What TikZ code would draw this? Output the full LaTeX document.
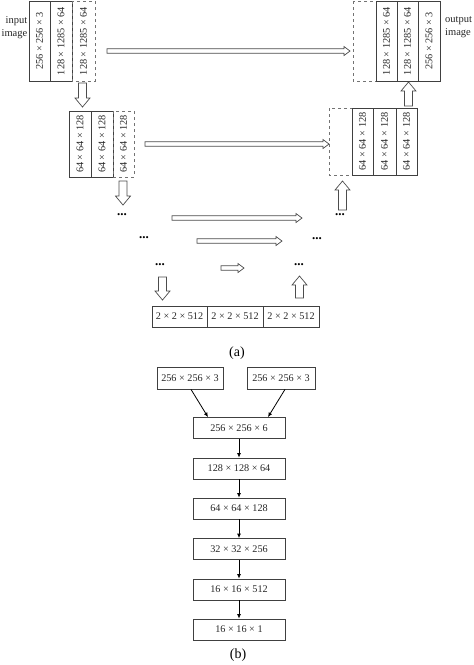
\documentclass[tikz,border=0pt]{standalone}
\usepackage{fontspec}
\setmainfont{Liberation Serif}
\usetikzlibrary{arrows.meta}
\begin{document}
\begin{tikzpicture}[x=1pt,y=-1pt,
  col/.style={draw=black!75, line width=0.8pt, rotate=90, inner sep=0pt, text=black!85,
    font=\fontsize{10.3}{12}\selectfont},
  dcol/.style={col, draw=black!55, dashed},
  blk/.style={draw=black!70, line width=0.7pt, fill=white},
  dots/.style={font=\fontsize{13}{14}\selectfont\bfseries, inner sep=0pt},
  lab/.style={font=\fontsize{10.5}{13}\selectfont, inner sep=0pt, text=black!85},
  bbox/.style={draw=black!75, line width=0.8pt, inner sep=0pt, text=black!85,
    font=\fontsize{10.2}{12}\selectfont},
  chain/.style={bbox, minimum width=92pt, minimum height=21pt},
  conn/.style={line width=0.8pt, -{Latex[length=4.5pt,width=4pt]}},
  captxt/.style={font=\fontsize{14}{16}\selectfont, inner sep=0pt}]
\useasboundingbox (0,0) rectangle (474,665);
\newcommand{\harr}[3]{% x1, x2, y
  \draw[blk] (#1,#3-2.2) -- (#2-6,#3-2.2) -- (#2-6,#3-4.5) -- (#2,#3) -- (#2-6,#3+4.5) -- (#2-6,#3+2.2) -- (#1,#3+2.2) -- cycle;}
\newcommand{\varr}[3]{% x, ytail, ytip
  \pgfmathsetmacro\hb{#3-9*sign(#3-#2)}
  \draw[blk] (#1-4,#2) -- (#1-4,\hb) -- (#1-7.5,\hb) -- (#1,#3) -- (#1+7.5,\hb) -- (#1+4,\hb) -- (#1+4,#2) -- cycle;}

% top-left block
\node[col, minimum width=80pt, minimum height=21pt] (l1a) at (39.5,41) {256 × 256 × 3};
\node[col, minimum width=80pt, minimum height=22pt] (l1b) at (61,41) {128 × 1285 × 64};
\node[dcol, minimum width=80pt, minimum height=23pt] (l1c) at (83.5,41) {128 × 1285 × 64};
\node[lab, anchor=east, align=right] (inl) at (27.5,27.5) {input\\image};

% top-right block
\node[dcol, minimum width=80pt, minimum height=23pt] (r1a) at (364.5,41) {};
\node[col, minimum width=80pt, minimum height=21pt] (r1b) at (386.5,41) {128 × 1285 × 64};
\node[col, minimum width=80pt, minimum height=21pt] (r1c) at (407.5,41) {128 × 1285 × 64};
\node[col, minimum width=80pt, minimum height=22pt] (r1d) at (429,41) {256 × 256 × 3};
\node[lab, anchor=west, align=left] (outl) at (445,27.5) {output\\image};

% second-level blocks
\node[col, minimum width=66pt, minimum height=22pt] (l2a) at (80,144) {64 × 64 × 128};
\node[col, minimum width=66pt, minimum height=22pt] (l2b) at (102,144) {64 × 64 × 128};
\node[dcol, minimum width=66pt, minimum height=21pt] (l2c) at (123.5,144) {64 × 64 × 128};

\node[dcol, minimum width=67pt, minimum height=23pt] (r2a) at (340.5,141.5) {};
\node[col, minimum width=67pt, minimum height=21pt] (r2b) at (362.5,141.5) {64 × 64 × 128};
\node[col, minimum width=67pt, minimum height=23pt] (r2c) at (384.5,141.5) {64 × 64 × 128};
\node[col, minimum width=67pt, minimum height=21pt] (r2d) at (406.5,141.5) {64 × 64 × 128};

% skip arrows
\harr{107}{350}{51}
\harr{145}{329}{144}
\harr{172}{302}{218}
\harr{197}{282}{241}
\harr{221}{244}{268}

% vertical block arrows
\varr{82.5}{83}{107}
\varr{408.5}{106}{82}
\varr{123}{181}{205}
\varr{342.5}{210}{181}
\varr{162.5}{277}{300}
\varr{299.5}{298}{276}

% dots
\node[dots] (d1) at (122,215) {...};
\node[dots] (d2) at (340,215) {...};
\node[dots] (d3) at (144,238) {...};
\node[dots] (d4) at (317,239) {...};
\node[dots] (d5) at (160,265) {...};
\node[dots] (d6) at (299,265) {...};

% bottleneck
\node[bbox, minimum width=55pt, minimum height=21pt] (m1) at (179.5,316.5) {2 × 2 × 512};
\node[bbox, minimum width=56pt, minimum height=21pt] (m2) at (235,316.5) {2 × 2 × 512};
\node[bbox, minimum width=56pt, minimum height=21pt] (m3) at (291,316.5) {2 × 2 × 512};

\node[captxt] (capa) at (237,353) {(a)};

% (b)
\node[bbox, minimum width=66pt, minimum height=22pt] (b1) at (190,378) {256 × 256 × 3};
\node[bbox, minimum width=68pt, minimum height=22pt] (b2) at (281,378) {256 × 256 × 3};
\node[chain] (b3) at (239,428) {256 × 256 × 6};
\node[chain] (b4) at (239,468.5) {128 × 128 × 64};
\node[chain] (b5) at (239,508.5) {64 × 64 × 128};
\node[chain] (b6) at (239,549) {32 × 32 × 256};
\node[chain] (b7) at (239,589.5) {16 × 16 × 512};
\node[chain] (b8) at (239,629.5) {16 × 16 × 1};
\node[captxt] (capb) at (238,655) {(b)};

\draw[conn] ([xshift=1]b1.south) -- ([xshift=-31]b3.north);
\draw[conn] ([xshift=4]b2.south) -- ([xshift=29]b3.north);
\draw[conn] (b3) -- (b4);
\draw[conn] (b4) -- (b5);
\draw[conn] (b5) -- (b6);
\draw[conn] (b6) -- (b7);
\draw[conn] (b7) -- (b8);
\end{tikzpicture}
\end{document}
